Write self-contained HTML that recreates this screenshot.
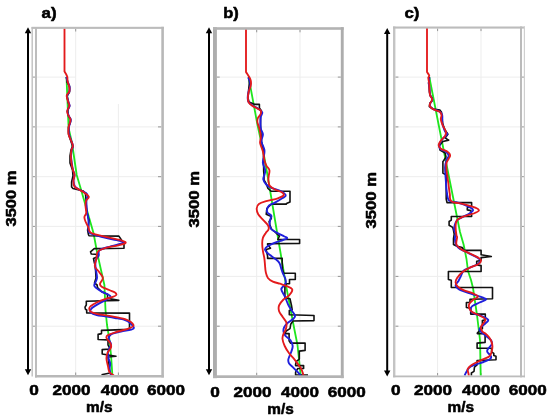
<!DOCTYPE html>
<html><head><meta charset="utf-8"><title>Velocity logs</title>
<style>html,body{margin:0;padding:0;background:#fff;width:550px;height:419px;overflow:hidden}svg{display:block}text{font-family:"Liberation Sans",Arial,sans-serif;font-weight:bold;fill:#000;stroke:#000;stroke-width:0.55px;stroke-linejoin:round}</style>
</head><body>
<svg width="550" height="419" viewBox="0 0 550 419">
<rect width="550" height="419" fill="#fff"/>
<line x1="75.7" y1="29" x2="75.7" y2="375" stroke="#ededed" stroke-width="1"/>
<line x1="118.4" y1="104" x2="118.4" y2="375" stroke="#ededed" stroke-width="1"/>
<line x1="37" y1="77.1" x2="75.7" y2="77.1" stroke="#ededed" stroke-width="1"/>
<line x1="37" y1="126.9" x2="161.3" y2="126.9" stroke="#ededed" stroke-width="1"/>
<line x1="37" y1="176.7" x2="161.3" y2="176.7" stroke="#ededed" stroke-width="1"/>
<line x1="37" y1="226.4" x2="161.3" y2="226.4" stroke="#ededed" stroke-width="1"/>
<line x1="37" y1="276.4" x2="161.3" y2="276.4" stroke="#ededed" stroke-width="1"/>
<line x1="37" y1="326.2" x2="161.3" y2="326.2" stroke="#ededed" stroke-width="1"/>
<line x1="32.5" y1="77.1" x2="35.5" y2="77.1" stroke="#8a8a8a" stroke-width="0.9"/>
<line x1="32.5" y1="126.9" x2="35.5" y2="126.9" stroke="#8a8a8a" stroke-width="0.9"/>
<line x1="32.5" y1="176.7" x2="35.5" y2="176.7" stroke="#8a8a8a" stroke-width="0.9"/>
<line x1="32.5" y1="226.4" x2="35.5" y2="226.4" stroke="#8a8a8a" stroke-width="0.9"/>
<line x1="32.5" y1="276.4" x2="35.5" y2="276.4" stroke="#8a8a8a" stroke-width="0.9"/>
<line x1="32.5" y1="326.2" x2="35.5" y2="326.2" stroke="#8a8a8a" stroke-width="0.9"/>
<line x1="158" y1="126.9" x2="161.3" y2="126.9" stroke="#8a8a8a" stroke-width="0.9"/>
<line x1="158" y1="176.7" x2="161.3" y2="176.7" stroke="#8a8a8a" stroke-width="0.9"/>
<line x1="158" y1="226.4" x2="161.3" y2="226.4" stroke="#8a8a8a" stroke-width="0.9"/>
<line x1="158" y1="276.4" x2="161.3" y2="276.4" stroke="#8a8a8a" stroke-width="0.9"/>
<line x1="158" y1="326.2" x2="161.3" y2="326.2" stroke="#8a8a8a" stroke-width="0.9"/>
<line x1="75.7" y1="28.9" x2="75.7" y2="31.5" stroke="#8a8a8a" stroke-width="0.9"/>
<line x1="75.7" y1="372.5" x2="75.7" y2="375" stroke="#8a8a8a" stroke-width="0.9"/>
<line x1="118.4" y1="372.5" x2="118.4" y2="375" stroke="#8a8a8a" stroke-width="0.9"/>
<polyline points="66.5,77.0 68.6,128.0 72.0,143.0 76.7,175.0 81.0,189.5 93.5,233.0 97.0,252.0 101.0,270.0 104.4,285.0 105.5,310.0 107.0,325.0 109.5,340.0 111.0,355.0 112.4,375.5" fill="none" stroke="#1ee61e" stroke-width="1.8" stroke-linejoin="round"/>
<polyline points="66.5,77.0 67.0,82.0 69.5,86.0 69.5,92.0 67.0,96.0 68.5,103.0 69.5,106.0 67.5,111.0 68.5,116.0 70.5,119.0 70.5,122.0 68.5,127.0 68.5,134.0 70.5,140.0 72.5,146.0 71.0,150.0 70.0,155.8 70.0,163.0 72.5,170.0 73.0,176.0 71.6,182.0 71.6,187.0 73.0,188.5 83.3,191.0 85.5,194.0 86.0,200.0 86.5,210.0 88.0,217.0 89.0,220.0 88.5,226.0 87.6,230.0 88.4,234.4 89.0,235.8 118.9,236.1 124.0,243.8 124.0,248.2 94.2,248.6 90.5,251.8 91.3,254.0 98.5,254.5 98.5,256.2 93.5,258.4 94.2,262.0 95.0,265.0 95.6,270.7 96.0,278.0 94.5,283.0 97.1,285.0 97.5,287.5 101.7,291.7 107.5,294.2 107.5,298.4 118.8,300.4 86.3,301.3 86.3,305.0 85.0,307.1 85.4,309.2 86.7,310.0 86.7,313.0 129.5,313.1 129.5,329.4 101.5,330.4 101.5,333.6 98.1,334.4 98.1,339.5 108.0,339.9 108.0,345.0 110.0,349.0 102.2,349.6 102.2,354.0 116.0,356.2 108.0,357.0 109.0,365.0 110.0,373.0 101.5,374.8" fill="none" stroke="#111" stroke-width="1.6" stroke-linejoin="round"/>
<path d="M66.3,77.0 C66.5,77.7 67.0,79.3 67.5,81.0 C68.0,82.7 69.3,85.2 69.6,87.0 C69.9,88.8 69.6,90.5 69.2,92.0 C68.8,93.5 67.2,94.2 67.1,96.0 C67.0,97.8 68.4,101.3 68.8,103.0 C69.2,104.7 69.8,104.7 69.6,106.0 C69.4,107.3 67.6,109.3 67.5,111.0 C67.4,112.7 68.2,114.5 68.8,116.0 C69.3,117.5 70.8,118.2 70.8,120.0 C70.8,121.8 69.3,124.7 69.0,127.0 C68.7,129.3 68.7,131.8 69.0,134.0 C69.3,136.2 70.3,138.0 71.0,140.0 C71.7,142.0 72.9,144.3 73.0,146.0 C73.1,147.7 72.1,148.3 71.8,150.0 C71.5,151.7 71.0,153.8 71.0,156.0 C71.0,158.2 71.5,160.7 71.8,163.0 C72.1,165.3 72.5,168.0 73.0,170.0 C73.5,172.0 74.4,173.2 74.5,175.0 C74.6,176.8 73.4,179.1 73.5,181.0 C73.6,182.9 73.8,185.0 75.0,186.6 C76.2,188.2 79.2,189.4 81.0,190.5 C82.8,191.6 84.9,192.1 86.0,193.0 C87.1,193.9 87.4,194.8 87.5,196.0 C87.6,197.2 86.7,198.5 86.5,200.0 C86.3,201.5 86.4,203.0 86.5,205.0 C86.6,207.0 86.8,210.0 87.0,212.0 C87.2,214.0 87.8,215.5 88.0,217.0 C88.2,218.5 88.4,219.3 88.5,221.0 C88.6,222.7 88.3,225.0 88.5,227.0 C88.7,229.0 87.3,231.3 89.8,233.0 C92.3,234.7 99.1,236.1 103.6,237.3 C108.1,238.5 113.3,239.3 116.7,240.2 C120.1,241.0 123.8,241.7 124.0,242.4 C124.2,243.1 121.1,243.7 118.2,244.5 C115.3,245.3 109.7,246.5 106.5,247.5 C103.3,248.5 100.6,249.1 99.3,250.4 C98.0,251.7 99.1,253.8 98.5,255.5 C97.9,257.2 96.1,258.4 95.6,260.5 C95.1,262.6 95.4,264.9 95.6,267.8 C95.8,270.7 97.2,275.1 97.0,278.0 C96.8,280.9 94.2,283.6 94.2,285.3 C94.2,287.0 95.5,287.2 96.7,288.3 C98.0,289.4 99.9,290.7 101.7,291.7 C103.5,292.7 106.0,293.4 107.5,294.2 C109.0,295.0 110.3,295.6 110.5,296.3 C110.7,297.0 109.7,297.5 108.4,298.4 C107.1,299.3 104.7,300.4 102.5,301.7 C100.3,302.9 96.9,304.6 95.0,305.9 C93.1,307.1 91.6,308.1 90.9,309.2 C90.2,310.3 89.9,311.5 90.9,312.5 C91.9,313.5 94.4,314.4 96.7,315.0 C99.0,315.6 102.0,315.8 105.0,316.3 C108.0,316.8 111.7,317.4 115.0,318.0 C118.3,318.6 122.5,319.2 125.0,320.0 C127.5,320.8 128.4,321.4 129.8,322.8 C131.2,324.2 135.0,327.2 133.5,328.6 C132.0,330.1 124.8,330.5 121.0,331.5 C117.2,332.5 113.0,333.2 111.0,334.4 C109.0,335.6 108.7,337.0 108.7,338.7 C108.7,340.4 111.1,342.3 111.0,344.5 C110.9,346.7 108.4,349.4 108.0,351.8 C107.6,354.2 108.3,357.1 108.7,359.0 C109.1,360.9 110.1,361.8 110.2,363.5 C110.3,365.2 109.4,367.3 109.5,369.3 C109.6,371.3 110.8,374.5 111.0,375.5" fill="none" stroke="#1f1fdc" stroke-width="1.9" stroke-linejoin="round"/>
<path d="M64.5,28.0 L64.5,71.5 C65.0,72.3 66.7,75.0 67.2,76.6 C67.7,78.2 67.2,79.2 67.6,81.0 C67.9,82.8 69.0,85.5 69.3,87.2 C69.6,89.0 69.7,90.1 69.3,91.5 C68.9,92.9 66.8,93.9 66.7,95.8 C66.6,97.7 68.2,101.3 68.6,103.0 C69.0,104.7 69.5,104.4 69.3,105.8 C69.1,107.2 67.3,109.8 67.2,111.5 C67.1,113.2 68.0,114.4 68.6,115.8 C69.1,117.2 70.5,118.1 70.5,120.0 C70.5,121.9 68.9,124.9 68.6,127.3 C68.3,129.7 68.2,132.2 68.6,134.3 C69.0,136.4 70.1,138.1 70.8,140.0 C71.5,141.9 72.8,144.1 72.9,145.8 C73.0,147.5 71.8,148.3 71.5,150.0 C71.2,151.7 70.8,153.6 70.8,155.8 C70.8,158.0 71.2,160.6 71.5,163.0 C71.8,165.4 72.4,168.0 72.9,170.0 C73.4,172.0 74.4,173.2 74.5,175.0 C74.6,176.8 73.4,178.9 73.4,180.8 C73.4,182.7 73.6,185.2 74.5,186.6 C75.4,188.0 77.3,188.5 78.9,189.5 C80.5,190.5 82.3,191.3 84.0,192.5 C85.7,193.7 88.4,195.5 88.8,196.8 C89.2,198.1 86.8,199.1 86.2,200.5 C85.7,201.9 85.5,203.4 85.5,205.5 C85.5,207.6 86.4,210.9 86.2,212.8 C86.0,214.7 84.5,215.6 84.4,217.0 C84.3,218.4 84.8,219.8 85.5,221.5 C86.2,223.2 87.4,225.5 88.4,227.4 C89.4,229.3 88.0,231.3 91.3,233.0 C94.6,234.7 102.8,236.0 108.0,237.3 C113.2,238.6 119.6,240.0 122.5,240.9 C125.4,241.8 126.2,242.3 125.5,243.0 C124.8,243.7 121.6,244.4 118.2,245.3 C114.8,246.2 108.4,247.1 105.0,248.2 C101.6,249.3 99.2,250.0 97.8,251.8 C96.4,253.6 96.9,256.6 96.4,259.0 C95.9,261.4 94.4,264.2 94.9,266.4 C95.4,268.6 98.0,270.3 99.3,272.2 C100.6,274.1 102.8,276.1 102.9,278.0 C103.0,279.9 100.2,282.4 100.0,283.8 C99.8,285.2 100.2,285.7 101.7,286.7 C103.2,287.7 107.0,289.0 109.2,290.0 C111.4,291.0 113.8,291.7 115.0,292.5 C116.2,293.3 116.6,294.3 116.3,295.0 C116.0,295.7 115.3,296.0 113.4,296.7 C111.5,297.4 107.8,298.2 105.0,299.2 C102.2,300.2 99.0,301.4 96.7,302.5 C94.4,303.6 92.2,304.9 90.9,305.9 C89.7,306.9 89.2,307.4 89.2,308.4 C89.2,309.4 89.7,310.8 90.9,311.7 C92.2,312.6 93.7,313.1 96.7,313.8 C99.8,314.5 104.5,315.0 109.2,315.9 C113.9,316.8 121.0,317.7 125.0,319.2 C129.1,320.7 132.9,323.4 133.5,325.0 C134.1,326.6 131.0,327.5 128.4,328.6 C125.8,329.7 121.4,330.4 118.0,331.5 C114.6,332.6 109.9,333.9 108.0,335.0 C106.1,336.1 106.1,336.7 106.5,338.0 C106.9,339.3 109.5,341.4 110.2,343.0 C111.0,344.6 111.5,345.8 111.0,347.5 C110.5,349.2 108.0,351.4 107.3,353.3 C106.5,355.2 106.4,356.8 106.5,359.0 C106.6,361.2 107.5,364.2 108.0,366.4 C108.5,368.6 108.5,370.7 109.5,372.2 C110.5,373.7 113.1,374.9 113.8,375.5" fill="none" stroke="#e31a1c" stroke-width="1.85" stroke-linejoin="round"/>
<rect x="31.5" y="27" width="1.4" height="349.5" fill="#c0c0c0"/>
<rect x="35" y="27" width="2" height="350.5" fill="#bdbdbd"/>
<rect x="31.5" y="26.8" width="132.4" height="2.1" fill="#bcbcbc"/>
<rect x="161.3" y="26.8" width="2.6" height="350.7" fill="#b8b8b8"/>
<rect x="35" y="375" width="128.9" height="2.5" fill="#b8b8b8"/>
<rect x="27" y="31.2" width="2" height="340.0" fill="#000"/>
<polygon points="28,27.2 31.2,33.2 24.8,33.2" fill="#000"/>
<polygon points="28,375.2 31.2,369.2 24.8,369.2" fill="#000"/>
<text x="41.5" y="18.3" font-size="15" textLength="15.0" lengthAdjust="spacingAndGlyphs">a)</text>
<text x="29.3" y="395.0" font-size="14.4" textLength="9.6" lengthAdjust="spacingAndGlyphs">0</text>
<text x="52.5" y="395.0" font-size="14.4" textLength="38.0" lengthAdjust="spacingAndGlyphs">2000</text>
<text x="100.7" y="395.0" font-size="14.4" textLength="38.0" lengthAdjust="spacingAndGlyphs">4000</text>
<text x="147.1" y="395.0" font-size="14.4" textLength="38.0" lengthAdjust="spacingAndGlyphs">6000</text>
<text x="86.0" y="411.6" font-size="15" textLength="26.5" lengthAdjust="spacingAndGlyphs">m/s</text>
<text x="0" y="0" font-size="14.6" textLength="56.0" lengthAdjust="spacingAndGlyphs" transform="translate(16.2,226.5) rotate(-90)">3500 m</text>
<line x1="256.7" y1="29.5" x2="256.7" y2="375.3" stroke="#ededed" stroke-width="1"/>
<line x1="300" y1="29.5" x2="300" y2="375.3" stroke="#ededed" stroke-width="1"/>
<line x1="216.7" y1="77.1" x2="340.8" y2="77.1" stroke="#ededed" stroke-width="1"/>
<line x1="216.7" y1="126.9" x2="340.8" y2="126.9" stroke="#ededed" stroke-width="1"/>
<line x1="216.7" y1="176.7" x2="340.8" y2="176.7" stroke="#ededed" stroke-width="1"/>
<line x1="216.7" y1="226.4" x2="340.8" y2="226.4" stroke="#ededed" stroke-width="1"/>
<line x1="216.7" y1="276.4" x2="340.8" y2="276.4" stroke="#ededed" stroke-width="1"/>
<line x1="216.7" y1="326.2" x2="340.8" y2="326.2" stroke="#ededed" stroke-width="1"/>
<line x1="216.7" y1="77.1" x2="219.7" y2="77.1" stroke="#8a8a8a" stroke-width="0.9"/>
<line x1="216.7" y1="126.9" x2="219.7" y2="126.9" stroke="#8a8a8a" stroke-width="0.9"/>
<line x1="216.7" y1="176.7" x2="219.7" y2="176.7" stroke="#8a8a8a" stroke-width="0.9"/>
<line x1="216.7" y1="226.4" x2="219.7" y2="226.4" stroke="#8a8a8a" stroke-width="0.9"/>
<line x1="216.7" y1="276.4" x2="219.7" y2="276.4" stroke="#8a8a8a" stroke-width="0.9"/>
<line x1="216.7" y1="326.2" x2="219.7" y2="326.2" stroke="#8a8a8a" stroke-width="0.9"/>
<line x1="337.8" y1="77.1" x2="340.8" y2="77.1" stroke="#8a8a8a" stroke-width="0.9"/>
<line x1="337.8" y1="126.9" x2="340.8" y2="126.9" stroke="#8a8a8a" stroke-width="0.9"/>
<line x1="337.8" y1="176.7" x2="340.8" y2="176.7" stroke="#8a8a8a" stroke-width="0.9"/>
<line x1="337.8" y1="226.4" x2="340.8" y2="226.4" stroke="#8a8a8a" stroke-width="0.9"/>
<line x1="337.8" y1="276.4" x2="340.8" y2="276.4" stroke="#8a8a8a" stroke-width="0.9"/>
<line x1="337.8" y1="326.2" x2="340.8" y2="326.2" stroke="#8a8a8a" stroke-width="0.9"/>
<line x1="256.7" y1="29.8" x2="256.7" y2="32.3" stroke="#8a8a8a" stroke-width="0.9"/>
<line x1="300" y1="29.8" x2="300" y2="32.3" stroke="#8a8a8a" stroke-width="0.9"/>
<line x1="256.7" y1="372.8" x2="256.7" y2="375.3" stroke="#8a8a8a" stroke-width="0.9"/>
<line x1="300" y1="372.8" x2="300" y2="375.3" stroke="#8a8a8a" stroke-width="0.9"/>
<polyline points="248.6,77.0 257.5,125.0 263.0,150.0 268.0,178.0 277.0,232.0 286.5,288.0 294.5,330.0 297.5,345.0 300.7,375.5" fill="none" stroke="#1ee61e" stroke-width="1.8" stroke-linejoin="round"/>
<polyline points="248.6,77.0 249.3,79.0 249.3,83.6 248.6,90.0 248.6,92.0 248.0,98.0 249.0,102.0 255.0,104.4 259.4,104.4 259.4,108.0 261.5,111.0 260.5,116.0 260.5,125.0 261.0,134.0 261.5,142.0 263.7,150.0 263.5,160.0 263.7,171.6 264.0,175.0 264.0,180.0 266.2,183.7 268.0,188.5 271.3,191.3 290.0,191.3 290.0,201.9 286.5,203.4 286.5,204.1 271.3,204.1 266.9,208.5 266.2,214.3 271.3,216.5 271.3,218.6 269.1,221.5 269.8,224.5 271.3,228.8 275.0,232.0 277.5,234.4 279.5,236.0 277.8,239.5 299.6,239.5 299.6,243.4 267.6,243.8 267.6,244.5 270.5,248.2 266.2,249.6 267.6,256.2 267.6,258.4 282.2,258.4 282.2,263.5 282.5,269.0 283.6,273.3 295.3,273.3 295.3,279.5 289.5,279.5 289.5,283.8 286.5,283.8 284.9,285.0 284.9,298.1 290.0,298.8 291.5,305.4 292.2,309.7 289.3,310.5 289.3,314.8 314.0,315.5 314.0,320.6 292.9,321.0 290.7,324.3 290.0,328.6 286.2,331.0 284.7,333.6 289.1,333.6 289.1,340.9 290.5,343.1 305.1,343.1 305.1,350.4 299.3,351.1 299.3,359.1 296.4,361.3 295.6,364.2 295.6,365.6 303.6,365.6 303.6,368.5 297.8,368.5 295.6,372.2 295.6,375.0 308.0,375.0" fill="none" stroke="#111" stroke-width="1.6" stroke-linejoin="round"/>
<path d="M248.2,77.5 C248.5,78.3 249.9,81.0 250.2,82.5 C250.5,84.0 250.5,84.9 250.2,86.5 C249.9,88.1 248.8,90.3 248.4,92.2 C248.0,94.1 247.7,96.4 247.7,98.0 C247.7,99.6 247.8,100.8 248.6,102.0 C249.4,103.2 251.0,104.5 252.5,105.5 C254.0,106.5 255.9,107.2 257.5,108.3 C259.1,109.4 261.6,110.9 262.2,112.3 C262.8,113.7 261.1,114.9 260.8,116.6 C260.5,118.3 260.5,120.3 260.5,122.3 C260.5,124.3 260.4,126.6 260.8,128.6 C261.2,130.6 262.8,132.2 262.9,134.3 C263.0,136.5 261.2,138.9 261.5,141.5 C261.8,144.1 264.0,147.4 264.4,150.0 C264.8,152.6 263.9,155.0 263.7,157.2 C263.4,159.4 262.7,160.8 262.9,163.0 C263.1,165.2 264.9,168.1 265.1,170.1 C265.4,172.1 264.7,173.4 264.4,175.0 C264.1,176.6 263.0,177.8 263.3,179.4 C263.6,181.0 264.8,183.1 266.2,184.5 C267.6,185.9 269.6,187.0 272.0,188.1 C274.4,189.2 278.4,189.8 280.7,191.0 C283.0,192.2 285.6,194.2 285.8,195.4 C286.1,196.6 284.0,197.1 282.2,198.3 C280.4,199.5 277.1,201.4 274.9,202.6 C272.7,203.8 270.4,204.3 269.1,205.5 C267.8,206.7 267.1,208.7 266.9,209.9 C266.6,211.1 266.9,211.8 267.6,212.8 C268.3,213.8 270.8,214.7 271.3,215.7 C271.8,216.7 270.8,217.0 270.5,218.6 C270.2,220.2 269.4,223.2 269.6,225.0 C269.8,226.8 270.2,228.0 271.5,229.3 C272.8,230.6 275.1,231.7 277.2,232.9 C279.3,234.1 282.7,235.6 284.4,236.5 C286.1,237.4 287.4,237.6 287.2,238.2 C287.0,238.8 285.1,239.2 283.0,240.0 C280.9,240.8 277.0,241.8 274.4,242.9 C271.8,244.0 268.8,245.4 267.2,246.5 C265.6,247.6 265.1,248.5 265.0,249.4 C264.9,250.3 265.7,251.2 266.5,252.2 C267.3,253.1 268.6,254.0 270.0,255.1 C271.4,256.2 273.5,257.4 275.1,258.7 C276.7,260.0 278.3,261.2 279.4,263.0 C280.5,264.8 280.9,267.6 281.5,269.4 C282.1,271.2 282.4,272.3 283.0,273.7 C283.6,275.1 284.6,276.6 285.1,278.0 C285.6,279.4 285.9,281.1 285.8,282.3 C285.7,283.5 285.1,283.8 284.4,285.0 C283.6,286.2 281.2,287.5 281.3,289.4 C281.4,291.3 283.7,293.9 284.9,296.6 C286.1,299.3 287.3,303.0 288.5,305.4 C289.7,307.8 291.1,309.5 292.2,311.2 C293.3,312.9 294.9,314.3 295.1,315.5 C295.3,316.7 294.8,317.3 293.6,318.5 C292.4,319.7 289.4,321.4 287.8,322.8 C286.2,324.2 284.9,325.8 284.2,327.2 C283.5,328.6 283.3,330.1 283.5,331.5 C283.7,332.9 284.3,334.4 285.5,335.8 C286.7,337.2 289.3,338.5 290.5,340.2 C291.7,341.9 292.6,344.1 292.7,346.0 C292.8,347.9 292.0,349.6 291.3,351.8 C290.6,354.0 288.8,357.2 288.4,359.1 C288.0,361.1 288.2,362.1 289.1,363.5 C290.0,364.9 292.1,366.4 293.5,367.8 C294.9,369.2 296.6,370.9 297.8,372.2 C299.0,373.5 300.2,374.9 300.7,375.5" fill="none" stroke="#1f1fdc" stroke-width="1.9" stroke-linejoin="round"/>
<path d="M246.0,29.0 L246.0,72.0 C246.7,73.2 249.5,77.1 250.3,79.0 C251.1,80.9 251.0,82.2 251.0,83.5 C251.0,84.8 250.9,85.0 250.5,86.5 C250.1,88.0 249.0,90.3 248.6,92.2 C248.2,94.1 247.9,96.3 247.9,98.0 C247.9,99.7 247.9,100.9 248.6,102.2 C249.3,103.5 250.9,104.8 252.2,105.8 C253.5,106.8 255.1,107.2 256.5,108.0 C257.9,108.8 260.1,109.7 260.8,110.8 C261.5,111.9 261.0,113.2 260.5,114.4 C260.0,115.6 258.4,116.7 257.9,118.0 C257.4,119.3 257.1,120.2 257.4,122.0 C257.6,123.8 258.8,126.1 259.4,128.6 C260.0,131.1 260.7,134.8 260.8,137.2 C260.9,139.6 259.8,140.6 260.1,143.0 C260.5,145.4 262.2,148.7 262.9,151.5 C263.6,154.3 263.8,157.7 264.4,160.1 C265.0,162.5 265.7,164.1 266.5,165.8 C267.3,167.5 269.0,168.4 269.4,170.1 C269.8,171.8 268.9,174.1 268.7,175.9 C268.5,177.7 268.2,179.1 268.4,180.8 C268.6,182.5 268.7,184.5 269.8,185.9 C270.9,187.3 272.8,188.4 274.9,189.5 C277.0,190.6 280.8,191.5 282.2,192.5 C283.6,193.5 284.3,194.4 283.6,195.4 C282.9,196.4 280.7,197.3 277.8,198.3 C274.9,199.3 269.4,200.2 266.2,201.2 C263.0,202.2 260.5,202.9 258.9,204.1 C257.3,205.3 256.8,206.8 256.7,208.5 C256.6,210.2 257.1,212.4 258.2,214.3 C259.3,216.2 261.7,218.3 263.3,220.1 C264.9,221.9 267.0,223.7 267.9,225.2 C268.8,226.7 269.0,228.0 268.6,229.3 C268.2,230.6 266.8,231.5 265.8,232.9 C264.9,234.3 263.5,236.1 262.9,237.9 C262.3,239.7 262.2,241.4 262.2,243.6 C262.2,245.8 262.5,248.4 262.9,250.8 C263.2,253.2 263.9,255.6 264.3,258.0 C264.7,260.4 264.8,262.7 265.0,265.1 C265.2,267.5 265.3,270.2 265.8,272.3 C266.3,274.4 266.7,276.4 267.9,278.0 C269.1,279.6 270.9,280.7 272.9,281.6 C274.9,282.6 277.9,283.0 280.0,283.7 C282.1,284.4 283.5,284.7 285.5,285.6 C287.5,286.6 291.6,287.8 292.2,289.4 C292.8,291.0 290.8,293.5 289.3,295.2 C287.9,296.9 285.2,297.8 283.5,299.5 C281.8,301.2 279.8,303.4 279.1,305.4 C278.4,307.3 278.5,309.3 279.1,311.2 C279.7,313.1 281.5,315.1 282.7,317.0 C283.9,318.9 285.9,320.8 286.4,322.8 C286.9,324.8 286.4,327.1 285.9,329.0 C285.4,330.9 283.9,332.7 283.3,334.4 C282.7,336.1 282.3,337.1 282.5,339.0 C282.7,340.9 283.6,343.6 284.7,346.0 C285.8,348.4 287.5,351.1 289.1,353.3 C290.7,355.5 292.6,357.2 294.2,359.1 C295.8,361.0 297.3,363.2 298.5,364.9 C299.7,366.6 300.6,367.5 301.5,369.3 C302.4,371.1 303.2,374.5 303.6,375.5" fill="none" stroke="#e31a1c" stroke-width="1.85" stroke-linejoin="round"/>
<rect x="213" y="27.2" width="3.9" height="351" fill="#adadad"/>
<rect x="213" y="27.2" width="130.7" height="2.6" fill="#b3b3b3"/>
<rect x="340.8" y="27.2" width="2.9" height="351" fill="#adadad"/>
<rect x="213" y="375.3" width="130.7" height="2.7" fill="#b3b3b3"/>
<rect x="208" y="31.2" width="2" height="340.1" fill="#000"/>
<polygon points="209,27.2 212.2,33.2 205.8,33.2" fill="#000"/>
<polygon points="209,375.3 212.2,369.3 205.8,369.3" fill="#000"/>
<text x="223.3" y="18.3" font-size="15" textLength="15.5" lengthAdjust="spacingAndGlyphs">b)</text>
<text x="210.3" y="396.8" font-size="14.4" textLength="9.6" lengthAdjust="spacingAndGlyphs">0</text>
<text x="233.6" y="396.8" font-size="14.4" textLength="38.0" lengthAdjust="spacingAndGlyphs">2000</text>
<text x="281.1" y="396.8" font-size="14.4" textLength="38.0" lengthAdjust="spacingAndGlyphs">4000</text>
<text x="327.8" y="396.8" font-size="14.4" textLength="38.0" lengthAdjust="spacingAndGlyphs">6000</text>
<text x="267.3" y="413.5" font-size="15" textLength="26.5" lengthAdjust="spacingAndGlyphs">m/s</text>
<text x="0" y="0" font-size="14.6" textLength="56.5" lengthAdjust="spacingAndGlyphs" transform="translate(199.4,227.5) rotate(-90)">3500 m</text>
<line x1="437.6" y1="28.5" x2="437.6" y2="375.5" stroke="#ededed" stroke-width="1"/>
<line x1="481" y1="28.5" x2="481" y2="375.5" stroke="#ededed" stroke-width="1"/>
<line x1="395.4" y1="77.1" x2="520" y2="77.1" stroke="#ededed" stroke-width="1"/>
<line x1="395.4" y1="126.9" x2="520" y2="126.9" stroke="#ededed" stroke-width="1"/>
<line x1="395.4" y1="176.7" x2="520" y2="176.7" stroke="#ededed" stroke-width="1"/>
<line x1="395.4" y1="226.4" x2="520" y2="226.4" stroke="#ededed" stroke-width="1"/>
<line x1="395.4" y1="276.4" x2="520" y2="276.4" stroke="#ededed" stroke-width="1"/>
<line x1="395.4" y1="326.2" x2="520" y2="326.2" stroke="#ededed" stroke-width="1"/>
<line x1="395.4" y1="77.1" x2="398.4" y2="77.1" stroke="#8a8a8a" stroke-width="0.9"/>
<line x1="395.4" y1="126.9" x2="398.4" y2="126.9" stroke="#8a8a8a" stroke-width="0.9"/>
<line x1="395.4" y1="176.7" x2="398.4" y2="176.7" stroke="#8a8a8a" stroke-width="0.9"/>
<line x1="395.4" y1="226.4" x2="398.4" y2="226.4" stroke="#8a8a8a" stroke-width="0.9"/>
<line x1="395.4" y1="276.4" x2="398.4" y2="276.4" stroke="#8a8a8a" stroke-width="0.9"/>
<line x1="395.4" y1="326.2" x2="398.4" y2="326.2" stroke="#8a8a8a" stroke-width="0.9"/>
<line x1="522" y1="77.1" x2="524" y2="77.1" stroke="#8a8a8a" stroke-width="0.9"/>
<line x1="522" y1="126.9" x2="524" y2="126.9" stroke="#8a8a8a" stroke-width="0.9"/>
<line x1="522" y1="176.7" x2="524" y2="176.7" stroke="#8a8a8a" stroke-width="0.9"/>
<line x1="522" y1="226.4" x2="524" y2="226.4" stroke="#8a8a8a" stroke-width="0.9"/>
<line x1="522" y1="276.4" x2="524" y2="276.4" stroke="#8a8a8a" stroke-width="0.9"/>
<line x1="522" y1="326.2" x2="524" y2="326.2" stroke="#8a8a8a" stroke-width="0.9"/>
<line x1="437.6" y1="28.6" x2="437.6" y2="31.1" stroke="#8a8a8a" stroke-width="0.9"/>
<line x1="481" y1="28.6" x2="481" y2="31.1" stroke="#8a8a8a" stroke-width="0.9"/>
<line x1="437.6" y1="373" x2="437.6" y2="375.5" stroke="#8a8a8a" stroke-width="0.9"/>
<line x1="481" y1="373" x2="481" y2="375.5" stroke="#8a8a8a" stroke-width="0.9"/>
<polyline points="429.3,77.0 438.3,123.0 449.2,178.0 460.0,232.0 463.6,244.5 466.5,259.0 468.0,271.0 471.0,280.0 473.0,288.0 477.0,315.0 480.0,340.0 480.7,375.5" fill="none" stroke="#1ee61e" stroke-width="1.8" stroke-linejoin="round"/>
<polyline points="429.3,77.0 428.6,83.0 429.3,86.5 429.5,92.0 430.5,96.0 432.2,98.0 432.2,100.8 430.0,103.0 429.3,106.5 433.0,109.0 440.0,110.1 441.5,112.3 442.0,116.0 442.5,122.0 442.9,124.3 445.0,130.0 447.9,134.3 445.1,137.9 448.7,140.1 442.9,141.5 439.3,145.8 440.0,150.1 445.1,153.0 446.0,157.0 443.6,160.8 442.9,161.5 442.9,173.0 445.1,174.4 446.2,175.0 446.2,199.0 447.0,202.6 471.6,202.6 471.6,206.3 467.3,207.7 467.3,209.9 470.9,210.6 471.6,215.0 471.6,216.5 451.3,216.5 451.3,220.1 449.1,221.5 449.1,225.2 452.7,227.4 453.5,230.3 454.2,234.0 453.5,238.7 453.5,244.5 456.4,246.0 462.2,247.5 463.6,249.6 463.6,250.4 481.1,250.4 481.1,254.7 491.3,256.5 481.1,257.6 481.1,260.5 476.7,261.3 476.7,264.9 481.1,265.6 481.1,271.5 448.4,271.5 448.4,279.5 451.3,280.2 451.3,287.5 492.5,287.5 492.5,298.8 470.0,299.3 470.0,302.5 466.4,302.5 466.4,307.5 470.7,308.3 470.7,314.1 485.3,314.1 485.3,319.9 482.4,320.6 482.4,328.6 480.2,330.1 477.3,333.0 477.3,333.6 485.1,333.6 485.1,342.4 477.1,343.1 477.1,348.2 491.6,348.2 491.6,351.8 493.8,353.3 493.8,355.5 496.0,356.2 496.0,359.8 477.1,360.5 477.1,364.9 475.0,366.5 474.4,367.7 474.0,371.4 471.4,373.0 471.4,375.5" fill="none" stroke="#111" stroke-width="1.6" stroke-linejoin="round"/>
<path d="M429.5,77.5 C429.4,78.5 428.8,81.8 428.8,83.6 C428.8,85.4 429.3,86.7 429.5,88.6 C429.7,90.5 429.7,93.3 430.2,95.1 C430.7,96.9 432.4,98.0 432.4,99.4 C432.4,100.8 430.6,102.5 430.2,103.7 C429.8,104.9 429.6,105.5 430.2,106.5 C430.8,107.5 432.2,108.6 433.8,109.4 C435.4,110.2 438.2,110.6 439.6,111.6 C441.0,112.5 441.8,113.3 442.2,115.1 C442.6,116.9 442.1,120.5 442.2,122.3 C442.3,124.1 442.4,124.2 442.9,125.7 C443.4,127.2 444.4,130.1 445.1,131.5 C445.8,132.9 447.6,133.1 447.2,134.3 C446.8,135.5 444.1,137.2 442.9,138.6 C441.7,140.0 440.5,141.2 440.0,142.9 C439.5,144.6 439.0,147.3 440.0,148.7 C441.0,150.1 444.4,150.3 445.8,151.5 C447.2,152.7 448.6,154.4 448.7,155.8 C448.8,157.2 447.1,158.2 446.5,160.1 C445.9,162.0 445.2,164.0 445.1,167.3 C445.0,170.6 445.5,175.8 445.8,180.0 C446.1,184.2 446.3,189.1 446.9,192.5 C447.4,195.9 447.3,198.8 449.1,200.5 C450.9,202.2 454.7,201.6 457.8,202.6 C460.9,203.6 465.4,205.1 468.0,206.3 C470.6,207.5 472.9,208.7 473.1,209.9 C473.4,211.1 471.3,212.3 469.5,213.5 C467.7,214.7 464.3,216.1 462.2,217.2 C460.1,218.3 458.3,218.9 457.1,220.1 C455.9,221.3 455.4,222.8 454.9,224.5 C454.4,226.2 454.1,228.9 454.2,230.3 C454.3,231.7 455.5,231.6 455.6,233.0 C455.7,234.4 454.8,236.8 454.9,238.7 C455.0,240.6 455.1,242.8 456.0,244.5 C456.9,246.2 457.8,247.4 460.0,248.9 C462.2,250.4 466.1,251.9 469.0,253.3 C471.9,254.8 475.6,256.4 477.5,257.6 C479.4,258.8 480.5,259.4 480.5,260.5 C480.5,261.6 479.4,262.9 477.5,264.2 C475.6,265.4 471.3,266.9 469.0,268.0 C466.7,269.1 465.0,269.3 463.6,270.7 C462.2,272.1 461.6,274.8 460.7,276.5 C459.8,278.2 459.4,279.4 458.5,280.9 C457.6,282.4 455.5,283.9 455.6,285.3 C455.7,286.7 456.6,288.0 459.1,289.4 C461.6,290.8 466.8,292.4 470.7,293.7 C474.6,295.0 479.8,296.4 482.4,297.4 C484.9,298.4 486.5,298.6 486.0,299.5 C485.5,300.4 481.8,301.4 479.5,302.5 C477.2,303.6 473.7,304.8 472.2,306.1 C470.7,307.4 470.5,309.3 470.7,310.5 C470.9,311.7 471.7,312.4 473.6,313.4 C475.6,314.4 480.0,315.2 482.4,316.3 C484.8,317.4 487.7,318.7 488.2,319.9 C488.7,321.1 486.5,322.3 485.3,323.5 C484.1,324.7 481.9,326.1 480.9,327.2 C479.9,328.3 479.0,328.9 479.5,330.1 C480.0,331.3 482.1,332.7 484.0,334.4 C485.9,336.1 489.6,338.5 490.9,340.2 C492.2,341.9 492.1,343.1 491.6,344.5 C491.1,345.9 488.7,347.7 488.0,348.9 C487.3,350.1 486.8,350.6 487.3,351.8 C487.8,353.0 490.4,355.0 490.9,356.2 C491.4,357.4 491.4,358.1 490.2,359.1 C489.0,360.1 486.2,361.0 483.6,362.0 C481.1,363.0 477.3,363.9 474.9,364.9 C472.5,365.9 470.7,366.4 469.1,367.8 C467.5,369.2 466.2,372.3 465.5,373.6 C464.8,374.9 464.8,375.2 464.7,375.5" fill="none" stroke="#1f1fdc" stroke-width="1.9" stroke-linejoin="round"/>
<path d="M427.0,28.0 L427.0,72.0 C427.4,72.6 429.0,74.6 429.2,75.5 C429.4,76.4 428.4,76.8 428.3,77.5 C428.2,78.2 428.5,78.9 428.6,80.0 C428.8,81.1 429.1,82.6 429.2,84.0 C429.3,85.4 429.2,86.8 429.3,88.6 C429.4,90.4 429.5,93.3 430.0,95.1 C430.5,96.9 432.2,98.0 432.2,99.4 C432.2,100.8 430.4,102.5 430.0,103.7 C429.6,104.9 429.4,105.5 430.0,106.5 C430.6,107.5 432.0,108.6 433.6,109.4 C435.2,110.2 438.1,110.6 439.4,111.6 C440.7,112.5 441.3,113.8 441.5,115.1 C441.7,116.4 440.6,117.6 440.8,119.4 C441.0,121.2 442.1,123.7 442.9,125.7 C443.7,127.7 445.4,129.8 445.8,131.5 C446.2,133.2 445.9,134.2 445.1,135.8 C444.3,137.4 441.9,139.2 440.8,140.8 C439.7,142.4 438.6,143.8 438.6,145.1 C438.6,146.4 439.4,147.6 440.8,148.7 C442.2,149.8 445.6,150.4 447.2,151.5 C448.8,152.6 449.9,153.9 450.1,155.1 C450.4,156.3 449.3,157.4 448.7,158.7 C448.1,160.0 446.9,161.1 446.5,163.0 C446.1,164.9 446.4,168.1 446.5,170.1 C446.6,172.1 446.9,172.7 447.2,175.0 C447.5,177.3 448.0,180.5 448.4,183.7 C448.8,186.8 449.3,191.0 449.8,193.9 C450.3,196.8 449.0,199.5 451.3,201.2 C453.6,202.9 459.6,203.0 463.6,204.1 C467.6,205.2 472.8,206.6 475.3,207.7 C477.9,208.8 479.1,209.6 478.9,210.6 C478.6,211.6 476.4,212.5 473.8,213.5 C471.2,214.5 466.4,215.4 463.6,216.5 C460.8,217.6 458.4,218.5 457.1,220.1 C455.8,221.7 455.7,223.4 455.6,225.9 C455.5,228.4 456.1,233.1 456.4,235.0 C456.6,236.9 457.1,235.7 457.1,237.3 C457.1,238.9 455.8,242.6 456.4,244.5 C457.0,246.4 458.5,247.4 460.7,248.9 C462.9,250.4 466.6,251.9 469.5,253.3 C472.4,254.8 476.3,256.4 478.2,257.6 C480.1,258.8 481.1,259.4 481.1,260.5 C481.1,261.6 480.1,263.0 478.2,264.2 C476.3,265.4 472.2,266.5 469.5,267.8 C466.8,269.1 464.3,270.5 462.2,272.2 C460.1,273.9 458.2,276.3 457.1,278.0 C456.0,279.7 455.5,280.9 455.6,282.4 C455.7,283.8 456.5,285.4 457.8,286.7 C459.1,288.0 460.9,288.9 463.5,290.1 C466.1,291.3 471.2,292.6 473.6,293.7 C476.0,294.8 478.0,295.6 478.0,296.6 C478.0,297.6 475.1,298.3 473.6,299.5 C472.2,300.7 470.0,302.4 469.3,303.9 C468.6,305.4 468.8,307.0 469.3,308.3 C469.8,309.6 470.5,310.7 472.2,311.9 C473.9,313.1 477.3,314.3 479.5,315.5 C481.7,316.7 484.6,318.0 485.3,319.2 C486.0,320.4 484.5,321.5 483.8,322.8 C483.1,324.1 481.1,325.8 480.9,327.2 C480.7,328.6 481.5,330.3 482.4,331.5 C483.3,332.7 485.1,332.9 486.5,334.4 C487.9,335.8 489.9,338.3 490.9,340.2 C491.9,342.1 492.3,344.1 492.4,346.0 C492.5,347.9 492.1,350.1 491.6,351.8 C491.1,353.5 490.8,355.0 489.5,356.2 C488.2,357.4 485.9,358.0 483.6,359.1 C481.3,360.2 477.8,361.6 475.7,362.7 C473.6,363.8 472.3,364.4 471.0,365.4 C469.7,366.4 468.6,367.6 468.0,368.5 C467.4,369.4 467.6,369.6 467.7,370.5 C467.8,371.4 468.3,372.9 468.5,373.7 C468.7,374.5 468.8,375.2 468.8,375.5" fill="none" stroke="#e31a1c" stroke-width="1.85" stroke-linejoin="round"/>
<rect x="393" y="26.5" width="2.4" height="350.8" fill="#c4c4c4"/>
<rect x="393" y="26.5" width="132" height="2.1" fill="#bcbcbc"/>
<rect x="520" y="26.5" width="2" height="350.8" fill="#bbbbbb"/>
<rect x="523.8" y="26.5" width="1.2" height="350.8" fill="#cfcfcf"/>
<rect x="393" y="375.5" width="132" height="1.8" fill="#bcbcbc"/>
<rect x="386.2" y="31.9" width="2" height="340.5" fill="#000"/>
<polygon points="387.2,27.9 390.4,33.9 384.0,33.9" fill="#000"/>
<polygon points="387.2,376.4 390.4,370.4 384.0,370.4" fill="#000"/>
<text x="404.4" y="18.3" font-size="15" textLength="15.0" lengthAdjust="spacingAndGlyphs">c)</text>
<text x="391.0" y="394.6" font-size="14.4" textLength="9.6" lengthAdjust="spacingAndGlyphs">0</text>
<text x="414.1" y="394.6" font-size="14.4" textLength="38.0" lengthAdjust="spacingAndGlyphs">2000</text>
<text x="461.9" y="394.6" font-size="14.4" textLength="38.0" lengthAdjust="spacingAndGlyphs">4000</text>
<text x="508.7" y="394.6" font-size="14.4" textLength="38.0" lengthAdjust="spacingAndGlyphs">6000</text>
<text x="447.6" y="411.6" font-size="15" textLength="26.5" lengthAdjust="spacingAndGlyphs">m/s</text>
<text x="0" y="0" font-size="14.6" textLength="56.5" lengthAdjust="spacingAndGlyphs" transform="translate(376.3,228.5) rotate(-90)">3500 m</text>
</svg>
</body></html>
